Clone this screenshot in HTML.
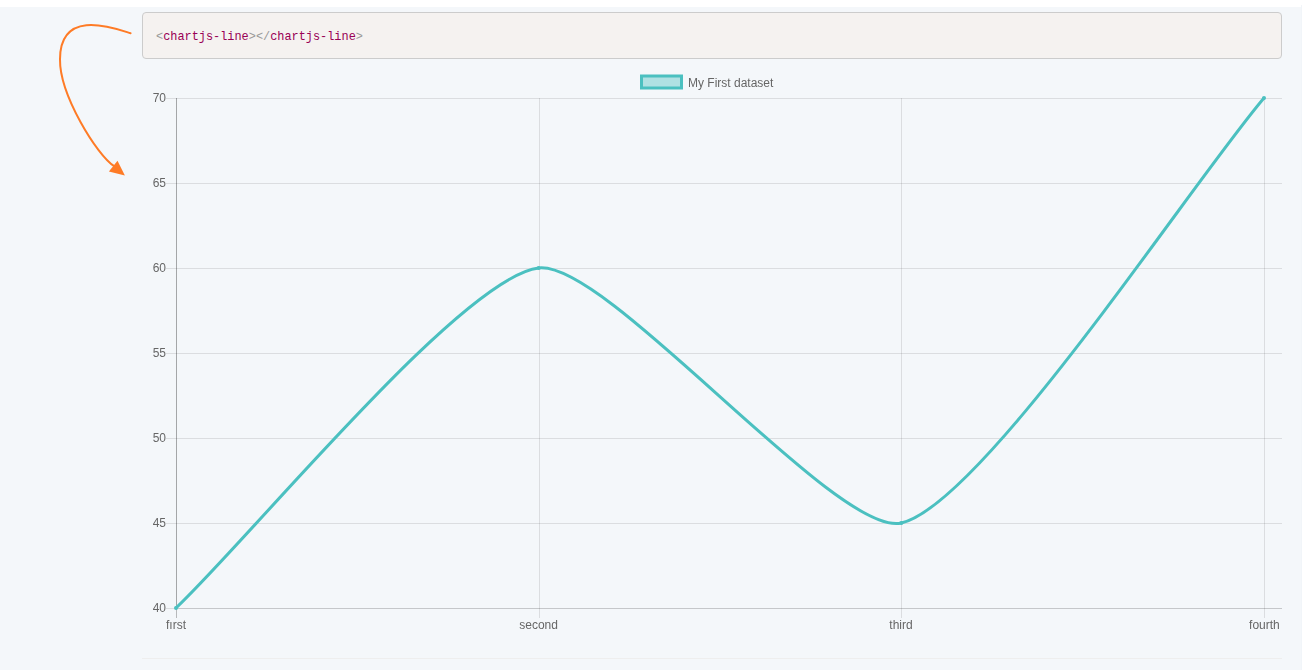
<!DOCTYPE html>
<html><head><meta charset="utf-8">
<style>
html,body{margin:0;padding:0;width:1305px;height:670px;overflow:hidden;background:#fff;}
#bg{position:absolute;left:0;top:7px;width:1302px;height:663px;background:#f4f7fa;}
#code{position:absolute;left:142px;top:12px;width:1138px;height:45px;border:1px solid #ccc;border-radius:4px;background:#f5f2f0;box-sizing:content-box;}
#code pre{margin:0;position:absolute;left:13px;top:16px;font-family:"Liberation Mono",monospace;font-size:12.7px;line-height:16px;color:#905;transform:scaleX(0.937);transform-origin:0 0;}
.p{color:#999;}
svg{position:absolute;left:0;top:0;will-change:transform;}
</style></head><body>
<div id="bg"></div><div style="position:absolute;left:1301px;top:5px;width:1px;height:665px;background:#f1f5f9;"></div>
<div id="code"><pre><span class="p">&lt;</span>chartjs-line<span class="p">&gt;&lt;/</span>chartjs-line<span class="p">&gt;</span></pre></div>
<svg width="1305" height="670" viewBox="0 0 1305 670" xmlns="http://www.w3.org/2000/svg">
<g shape-rendering="crispEdges" stroke-width="1">
<!-- horizontal grid -->
<path d="M166 98.5H1282M166 183.5H1282M166 268.5H1282M166 353.5H1282M166 438.5H1282M166 523.5H1282" stroke="rgba(0,0,0,0.1)"/>
<path d="M166 608.5H1282" stroke="rgba(0,0,0,0.1)"/><path d="M176 608.5H1282" stroke="rgba(0,0,0,0.1)"/>
<!-- vertical grid -->
<path d="M539.5 98V618M901.5 98V618M1264.5 98V618" stroke="rgba(0,0,0,0.1)"/>
<path d="M176.5 98V618" stroke="rgba(0,0,0,0.25)"/><path d="M176.5 98V608" stroke="rgba(0,0,0,0.1)"/>
<path d="M142 658.5H1282" stroke="#eee"/>
</g>
<g font-family="Liberation Sans" font-size="12" fill="#666" >
<text x="166" y="102" text-anchor="end">70</text>
<text x="166" y="187" text-anchor="end">65</text>
<text x="166" y="272" text-anchor="end">60</text>
<text x="166" y="357" text-anchor="end">55</text>
<text x="166" y="442" text-anchor="end">50</text>
<text x="166" y="527" text-anchor="end">45</text>
<text x="166" y="612" text-anchor="end">40</text>
<text x="176" y="629" text-anchor="middle">f&#x131;rst</text>
<text x="538.6" y="629" text-anchor="middle">second</text>
<text x="901" y="629" text-anchor="middle">third</text>
<text x="1264.4" y="629" text-anchor="middle">fourth</text>
<text x="688" y="87">My First dataset</text>
</g>
<rect x="641.5" y="76" width="40" height="12" fill="rgba(75,192,192,0.4)" stroke="#4bc0c0" stroke-width="3"/>
<g fill="#4bc0c0"><circle cx="176" cy="608" r="2"/><circle cx="538.67" cy="268" r="2"/><circle cx="901.33" cy="523" r="2"/><circle cx="1264" cy="98" r="2"/></g>
<path d="M176.00 608.00 C248.53 540.00 461.99 276.99 538.67 268.00 C607.05 259.99 837.15 538.04 901.33 523.00 C982.22 504.04 1191.47 183.00 1264.00 98.00" fill="none" stroke="#4bc0c0" stroke-width="3"/>
<path d="M130.6 33.2 C114.3 28.3 60.2 7.8 60.0 59.2 C59.6 95.1 97.4 155.7 114.2 166.2" fill="none" stroke="#fe7b26" stroke-width="2" stroke-linecap="round"/>
<path d="M117.5 160.7 L108.9 171.4 L124.9 175.6Z" fill="#fe7b26"/>
</svg>
</body></html>
